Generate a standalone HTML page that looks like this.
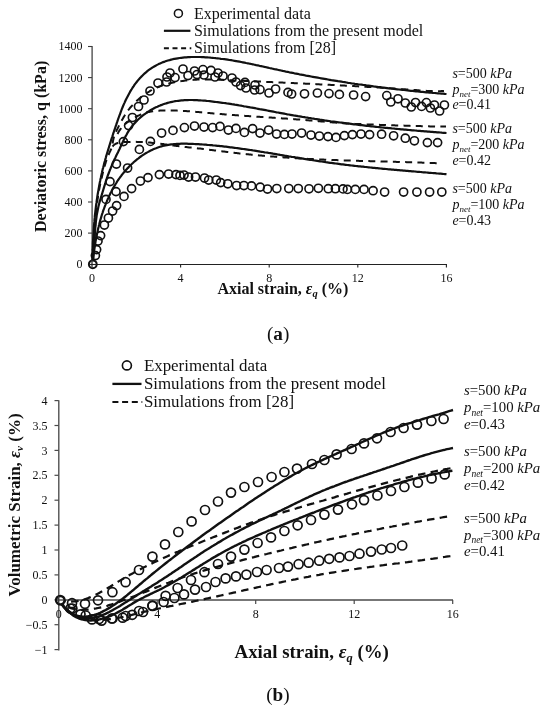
<!DOCTYPE html>
<html lang="en"><head><meta charset="utf-8"><title>Figure</title>
<style>html,body{margin:0;padding:0;background:#fff}svg{display:block;filter:blur(0.35px)}text{font-family:"Liberation Serif",serif;fill:#111}.b{font-weight:bold}.i{font-style:italic}</style>
</head><body>
<svg width="550" height="711" viewBox="0 0 550 711">
<rect width="550" height="711" fill="#fff"/>
<g stroke="#3c3c3c" stroke-width="1.25" fill="none">
<path d="M92.1,45.9 V264.5"/>
<path d="M88,264.2 H92" stroke-width="1.1"/>
<path d="M88,233.1 H92" stroke-width="1.1"/>
<path d="M88,202.0 H92" stroke-width="1.1"/>
<path d="M88,170.9 H92" stroke-width="1.1"/>
<path d="M88,139.8 H92" stroke-width="1.1"/>
<path d="M88,108.7 H92" stroke-width="1.1"/>
<path d="M88,77.6 H92" stroke-width="1.1"/>
<path d="M88,46.5 H92" stroke-width="1.1"/>
</g>
<g stroke="#222" stroke-width="1.1" fill="none">
<path d="M92,264.5 H447"/>
<path d="M92.0,264.5 V267.5"/>
<path d="M180.6,264.5 V267.5"/>
<path d="M269.2,264.5 V267.5"/>
<path d="M357.8,264.5 V267.5"/>
<path d="M446.4,264.5 V267.5"/>
</g>
<g font-size="12" text-anchor="end">
<text x="82.5" y="268.1">0</text>
<text x="82.5" y="237.0">200</text>
<text x="82.5" y="205.9">400</text>
<text x="82.5" y="174.8">600</text>
<text x="82.5" y="143.7">800</text>
<text x="82.5" y="112.6">1000</text>
<text x="82.5" y="81.5">1200</text>
<text x="82.5" y="50.4">1400</text>
</g>
<g font-size="12" text-anchor="middle">
<text x="92.0" y="281.9">0</text>
<text x="180.6" y="281.9">4</text>
<text x="269.2" y="281.9">8</text>
<text x="357.8" y="281.9">12</text>
<text x="446.4" y="281.9">16</text>
</g>
<text class="b" font-size="16" x="217.4" y="293.8">Axial strain, <tspan class="i">ε</tspan><tspan class="i" font-size="10.5" dy="3.5">q</tspan><tspan dy="-3.5"> (%)</tspan></text>
<text class="b" font-size="16" text-anchor="middle" transform="translate(45.8,146.4) rotate(-90)">Deviatoric stress, q (kPa)</text>
<circle cx="178.4" cy="13.4" r="4.00" fill="none" stroke="#111" stroke-width="1.55"/>
<text font-size="16" x="193.9" y="18.5">Experimental data</text>
<path d="M163.9,30.8 H190.4" stroke="#111" stroke-width="2.20"/>
<text font-size="16" x="193.9" y="35.6">Simulations from the present model</text>
<path d="M163.9,48.2 H191.3" stroke="#111" stroke-width="1.90" stroke-dasharray="5 3.6"/>
<text font-size="16" x="193.9" y="52.8">Simulations from [28]</text>
<g fill="none" stroke="#111" stroke-width="2.2" stroke-linecap="butt" stroke-linejoin="round">
<path d="M92.5,264.0 L92.5,262.3 L92.5,260.6 L92.5,258.9 L92.6,257.2 L92.6,255.5 L92.6,253.8 L92.7,252.1 L92.7,250.4 L92.8,248.7 L92.8,247.0 L92.9,245.3 L92.9,243.6 L93.0,241.8 L93.1,240.1 L93.2,238.4 L93.3,236.7 L93.4,235.0 L93.5,233.3 L93.6,231.6 L93.7,229.9 L93.8,228.2 L93.9,226.5 L94.1,224.8 L94.2,223.1 L94.4,221.4 L94.5,219.7 L94.7,217.9 L94.8,216.2 L95.0,214.5 L95.2,212.8 L95.4,211.1 L95.6,209.4 L95.8,207.7 L96.0,206.0 L96.2,204.4 L96.5,202.7 L96.7,201.0 L96.9,199.3 L97.2,197.6 L97.4,195.9 L97.7,194.2 L98.0,192.5 L98.3,190.9 L98.6,189.2 L98.9,187.5 L99.2,185.8 L99.5,184.1 L99.8,182.5 L100.2,180.8 L100.5,179.1 L100.9,177.5 L101.2,175.8 L101.6,174.2 L102.0,172.5 L102.3,170.9 L102.7,169.2 L103.2,167.6 L103.6,165.9 L104.0,164.3 L104.4,162.6 L104.9,161.0 L105.3,159.4 L105.8,157.8 L106.2,156.1 L106.7,154.5 L107.2,152.9 L107.7,151.2 L108.2,149.6 L108.7,148.0 L109.2,146.4 L109.7,144.7 L110.2,143.1 L110.7,141.5 L111.2,139.9 L111.7,138.3 L112.3,136.6 L112.8,135.0 L113.3,133.4 L113.9,131.7 L114.4,130.1 L115.0,128.5 L115.5,126.8 L116.1,125.2 L116.6,123.6 L117.2,121.9 L117.7,120.3 L118.3,118.7 L118.9,117.0 L119.5,115.4 L120.1,113.8 L120.7,112.2 L121.3,110.5 L121.9,108.9 L122.6,107.3 L123.2,105.7 L123.9,104.1 L124.6,102.6 L125.3,101.0 L126.0,99.5 L126.8,97.9 L127.6,96.4 L128.4,94.9 L129.2,93.4 L130.0,91.9 L130.9,90.4 L131.8,89.0 L132.7,87.5 L133.7,86.1 L134.6,84.7 L135.6,83.4 L136.7,82.0 L137.7,80.7 L138.8,79.4 L140.0,78.1 L141.1,76.9 L142.3,75.7 L143.5,74.5 L144.7,73.4 L146.0,72.3 L147.3,71.2 L148.6,70.2 L150.0,69.2 L151.3,68.3 L152.7,67.4 L154.2,66.5 L155.6,65.7 L157.1,64.9 L158.6,64.1 L160.1,63.4 L161.6,62.8 L163.2,62.1 L164.8,61.6 L166.3,61.0 L167.9,60.5 L169.6,60.1 L171.2,59.6 L172.8,59.2 L174.5,58.9 L176.1,58.6 L177.8,58.3 L179.5,58.0 L181.2,57.8 L182.9,57.6 L184.6,57.4 L186.3,57.3 L188.1,57.2 L189.8,57.1 L191.5,57.0 L193.3,57.0 L195.0,57.0 L196.7,57.0 L198.5,57.0 L200.2,57.0 L202.0,57.1 L203.7,57.2 L205.5,57.3 L207.2,57.4 L208.9,57.5 L210.7,57.7 L212.4,57.8 L214.1,58.0 L215.8,58.2 L217.5,58.3 L219.2,58.5 L220.9,58.8 L222.6,59.0 L224.3,59.2 L226.0,59.4 L227.7,59.7 L229.4,60.0 L231.1,60.2 L232.8,60.5 L234.5,60.8 L236.2,61.1 L237.8,61.4 L239.5,61.7 L241.2,62.0 L242.8,62.3 L244.5,62.6 L246.2,63.0 L247.9,63.3 L249.5,63.7 L251.2,64.0 L252.8,64.3 L254.5,64.7 L256.2,65.1 L257.8,65.4 L259.5,65.8 L261.1,66.1 L262.8,66.5 L264.5,66.9 L266.1,67.2 L267.8,67.6 L269.4,68.0 L271.1,68.3 L272.7,68.7 L274.4,69.1 L276.1,69.4 L277.7,69.8 L279.4,70.2 L281.0,70.5 L282.7,70.9 L284.4,71.2 L286.0,71.6 L287.7,71.9 L289.4,72.3 L291.0,72.6 L292.7,72.9 L294.4,73.3 L296.0,73.6 L297.7,73.9 L299.4,74.3 L301.0,74.6 L302.7,74.9 L304.4,75.2 L306.1,75.6 L307.7,75.9 L309.4,76.2 L311.1,76.5 L312.8,76.8 L314.5,77.1 L316.1,77.4 L317.8,77.7 L319.5,78.0 L321.2,78.3 L322.9,78.6 L324.5,78.9 L326.2,79.2 L327.9,79.5 L329.6,79.8 L331.3,80.1 L333.0,80.3 L334.6,80.6 L336.3,80.9 L338.0,81.2 L339.7,81.4 L341.4,81.7 L343.1,82.0 L344.8,82.2 L346.5,82.5 L348.1,82.8 L349.8,83.0 L351.5,83.3 L353.2,83.5 L354.9,83.8 L356.6,84.0 L358.3,84.3 L360.0,84.5 L361.7,84.7 L363.4,85.0 L365.1,85.2 L366.8,85.5 L368.5,85.7 L370.2,85.9 L371.8,86.1 L373.5,86.4 L375.2,86.6 L376.9,86.8 L378.6,87.0 L380.3,87.2 L382.0,87.5 L383.7,87.7 L385.4,87.9 L387.1,88.1 L388.8,88.3 L390.5,88.5 L392.2,88.7 L393.9,88.9 L395.6,89.1 L397.3,89.3 L399.0,89.5 L400.7,89.7 L402.4,89.9 L404.1,90.0 L405.8,90.2 L407.5,90.4 L409.2,90.6 L410.9,90.8 L412.6,90.9 L414.3,91.1 L416.0,91.3 L417.7,91.4 L419.4,91.6 L421.1,91.8 L422.8,91.9 L424.5,92.1 L426.2,92.3 L427.9,92.4 L429.5,92.6 L431.2,92.7 L432.9,92.9 L434.6,93.0 L436.3,93.2 L438.0,93.3 L439.7,93.5 L441.4,93.6 L443.1,93.7 L444.8,93.9 L446.5,94.0"/>
<path d="M92.5,264.0 L92.7,262.4 L92.9,260.9 L93.0,259.3 L93.2,257.8 L93.3,256.2 L93.4,254.6 L93.5,253.1 L93.7,251.5 L93.8,249.9 L93.9,248.3 L94.0,246.8 L94.1,245.2 L94.2,243.6 L94.3,242.0 L94.4,240.5 L94.5,238.9 L94.6,237.3 L94.7,235.7 L94.8,234.2 L94.9,232.6 L95.0,231.0 L95.1,229.5 L95.3,227.9 L95.4,226.3 L95.6,224.8 L95.7,223.2 L95.9,221.6 L96.1,220.1 L96.3,218.5 L96.5,217.0 L96.7,215.4 L97.0,213.9 L97.3,212.3 L97.6,210.8 L97.9,209.3 L98.2,207.8 L98.5,206.2 L98.9,204.7 L99.3,203.2 L99.7,201.7 L100.2,200.2 L100.6,198.7 L101.1,197.2 L101.5,195.7 L102.0,194.2 L102.4,192.7 L102.9,191.2 L103.3,189.7 L103.8,188.2 L104.2,186.7 L104.7,185.2 L105.2,183.7 L105.6,182.2 L106.1,180.7 L106.6,179.2 L107.1,177.7 L107.6,176.2 L108.1,174.7 L108.7,173.3 L109.2,171.8 L109.8,170.3 L110.4,168.9 L111.0,167.4 L111.6,166.0 L112.2,164.5 L112.8,163.1 L113.5,161.7 L114.1,160.3 L114.8,158.8 L115.5,157.4 L116.1,156.0 L116.8,154.6 L117.5,153.2 L118.2,151.8 L118.9,150.3 L119.6,148.9 L120.2,147.5 L120.9,146.1 L121.6,144.6 L122.2,143.2 L122.9,141.8 L123.6,140.3 L124.3,138.9 L125.0,137.5 L125.7,136.1 L126.5,134.7 L127.2,133.4 L128.0,132.0 L128.9,130.7 L129.8,129.4 L130.7,128.1 L131.6,126.8 L132.6,125.6 L133.6,124.4 L134.6,123.2 L135.7,122.1 L136.8,120.9 L137.9,119.8 L139.0,118.8 L140.2,117.7 L141.4,116.7 L142.6,115.7 L143.9,114.7 L145.1,113.8 L146.4,112.9 L147.7,112.0 L149.1,111.1 L150.4,110.3 L151.8,109.5 L153.1,108.8 L154.5,108.0 L155.9,107.3 L157.4,106.7 L158.8,106.0 L160.3,105.4 L161.7,104.9 L163.2,104.3 L164.7,103.8 L166.2,103.4 L167.7,102.9 L169.2,102.5 L170.7,102.1 L172.2,101.8 L173.7,101.5 L175.2,101.2 L176.8,101.0 L178.3,100.8 L179.9,100.6 L181.4,100.4 L183.0,100.3 L184.5,100.2 L186.1,100.1 L187.7,100.1 L189.2,100.0 L190.8,100.0 L192.4,100.0 L193.9,100.1 L195.5,100.1 L197.1,100.2 L198.7,100.3 L200.3,100.4 L201.8,100.5 L203.4,100.6 L205.0,100.7 L206.6,100.9 L208.2,101.0 L209.7,101.2 L211.3,101.4 L212.9,101.6 L214.5,101.8 L216.1,102.0 L217.6,102.2 L219.2,102.4 L220.8,102.6 L222.3,102.8 L223.9,103.0 L225.5,103.2 L227.0,103.5 L228.6,103.7 L230.2,103.9 L231.7,104.2 L233.3,104.4 L234.8,104.7 L236.4,104.9 L237.9,105.2 L239.5,105.5 L241.0,105.7 L242.6,106.0 L244.1,106.3 L245.7,106.5 L247.2,106.8 L248.8,107.1 L250.3,107.4 L251.9,107.6 L253.4,107.9 L255.0,108.2 L256.5,108.5 L258.0,108.8 L259.6,109.1 L261.1,109.3 L262.7,109.6 L264.2,109.9 L265.7,110.2 L267.3,110.5 L268.8,110.8 L270.4,111.1 L271.9,111.4 L273.4,111.7 L275.0,112.0 L276.5,112.3 L278.1,112.5 L279.6,112.8 L281.1,113.1 L282.7,113.4 L284.2,113.7 L285.8,114.0 L287.3,114.3 L288.8,114.5 L290.4,114.8 L291.9,115.1 L293.5,115.4 L295.0,115.6 L296.5,115.9 L298.1,116.2 L299.6,116.4 L301.2,116.7 L302.7,117.0 L304.3,117.2 L305.8,117.5 L307.4,117.7 L308.9,118.0 L310.5,118.2 L312.0,118.5 L313.6,118.7 L315.1,119.0 L316.7,119.2 L318.2,119.4 L319.8,119.7 L321.4,119.9 L322.9,120.1 L324.5,120.4 L326.0,120.6 L327.6,120.8 L329.1,121.0 L330.7,121.3 L332.3,121.5 L333.8,121.7 L335.4,121.9 L336.9,122.1 L338.5,122.3 L340.1,122.5 L341.6,122.7 L343.2,122.9 L344.7,123.1 L346.3,123.3 L347.9,123.5 L349.4,123.7 L351.0,123.9 L352.5,124.1 L354.1,124.3 L355.7,124.5 L357.2,124.7 L358.8,124.9 L360.4,125.1 L361.9,125.2 L363.5,125.4 L365.1,125.6 L366.6,125.8 L368.2,126.0 L369.8,126.1 L371.3,126.3 L372.9,126.5 L374.5,126.6 L376.0,126.8 L377.6,127.0 L379.2,127.1 L380.7,127.3 L382.3,127.5 L383.9,127.6 L385.4,127.8 L387.0,127.9 L388.6,128.1 L390.1,128.2 L391.7,128.4 L393.3,128.5 L394.8,128.7 L396.4,128.8 L398.0,129.0 L399.5,129.1 L401.1,129.3 L402.7,129.4 L404.2,129.6 L405.8,129.7 L407.4,129.8 L408.9,130.0 L410.5,130.1 L412.1,130.3 L413.6,130.4 L415.2,130.5 L416.8,130.7 L418.3,130.8 L419.9,130.9 L421.5,131.1 L423.0,131.2 L424.6,131.3 L426.2,131.4 L427.7,131.6 L429.3,131.7 L430.9,131.8 L432.4,131.9 L434.0,132.1 L435.6,132.2 L437.1,132.3 L438.7,132.4 L440.3,132.5 L441.8,132.7 L443.4,132.8 L444.9,132.9 L446.5,133.0"/>
<path d="M92.5,264.0 L92.7,262.6 L92.8,261.2 L93.0,259.8 L93.1,258.4 L93.3,256.9 L93.5,255.5 L93.7,254.1 L93.9,252.7 L94.1,251.2 L94.3,249.8 L94.5,248.4 L94.7,247.0 L94.9,245.5 L95.1,244.1 L95.4,242.7 L95.6,241.2 L95.9,239.8 L96.1,238.4 L96.4,236.9 L96.7,235.5 L97.0,234.1 L97.3,232.7 L97.6,231.2 L97.9,229.8 L98.2,228.4 L98.6,227.0 L98.9,225.6 L99.3,224.2 L99.6,222.7 L100.0,221.3 L100.4,219.9 L100.8,218.5 L101.2,217.1 L101.6,215.7 L102.0,214.4 L102.5,213.0 L102.9,211.6 L103.4,210.2 L103.9,208.9 L104.4,207.5 L104.9,206.1 L105.4,204.8 L105.9,203.4 L106.5,202.1 L107.0,200.8 L107.6,199.5 L108.2,198.1 L108.7,196.8 L109.4,195.5 L110.0,194.2 L110.6,192.9 L111.3,191.7 L111.9,190.4 L112.6,189.1 L113.3,187.9 L114.0,186.6 L114.8,185.4 L115.5,184.2 L116.3,183.0 L117.0,181.7 L117.8,180.5 L118.6,179.4 L119.5,178.2 L120.3,177.0 L121.2,175.9 L122.0,174.7 L122.9,173.6 L123.8,172.5 L124.8,171.4 L125.7,170.3 L126.7,169.2 L127.7,168.1 L128.7,167.1 L129.7,166.0 L130.7,165.0 L131.8,164.0 L132.9,163.0 L133.9,162.0 L135.0,161.1 L136.2,160.1 L137.3,159.2 L138.5,158.3 L139.6,157.4 L140.8,156.5 L142.0,155.7 L143.2,154.9 L144.4,154.1 L145.7,153.3 L146.9,152.6 L148.2,151.9 L149.4,151.2 L150.7,150.5 L152.0,149.9 L153.3,149.3 L154.6,148.7 L156.0,148.2 L157.3,147.7 L158.6,147.2 L160.0,146.8 L161.4,146.4 L162.7,146.0 L164.1,145.7 L165.5,145.4 L166.9,145.1 L168.3,144.8 L169.7,144.6 L171.1,144.4 L172.5,144.3 L174.0,144.1 L175.4,144.0 L176.8,143.9 L178.3,143.8 L179.7,143.8 L181.1,143.7 L182.6,143.7 L184.0,143.7 L185.5,143.7 L186.9,143.7 L188.4,143.8 L189.8,143.8 L191.3,143.9 L192.8,143.9 L194.2,144.0 L195.7,144.1 L197.1,144.2 L198.6,144.2 L200.0,144.3 L201.5,144.4 L202.9,144.5 L204.4,144.6 L205.8,144.7 L207.3,144.9 L208.7,145.0 L210.2,145.1 L211.6,145.2 L213.0,145.4 L214.5,145.5 L215.9,145.6 L217.4,145.8 L218.8,145.9 L220.2,146.1 L221.7,146.2 L223.1,146.4 L224.5,146.6 L226.0,146.7 L227.4,146.9 L228.9,147.1 L230.3,147.3 L231.7,147.4 L233.2,147.6 L234.6,147.8 L236.0,148.0 L237.4,148.2 L238.9,148.4 L240.3,148.6 L241.7,148.8 L243.2,149.0 L244.6,149.2 L246.0,149.4 L247.5,149.6 L248.9,149.8 L250.3,150.0 L251.7,150.2 L253.2,150.5 L254.6,150.7 L256.0,150.9 L257.4,151.1 L258.9,151.3 L260.3,151.6 L261.7,151.8 L263.1,152.0 L264.6,152.3 L266.0,152.5 L267.4,152.7 L268.8,153.0 L270.2,153.2 L271.7,153.4 L273.1,153.7 L274.5,153.9 L275.9,154.1 L277.4,154.4 L278.8,154.6 L280.2,154.9 L281.6,155.1 L283.0,155.3 L284.5,155.6 L285.9,155.8 L287.3,156.0 L288.7,156.3 L290.2,156.5 L291.6,156.8 L293.0,157.0 L294.4,157.2 L295.8,157.5 L297.3,157.7 L298.7,157.9 L300.1,158.2 L301.5,158.4 L303.0,158.6 L304.4,158.9 L305.8,159.1 L307.2,159.3 L308.7,159.6 L310.1,159.8 L311.5,160.0 L312.9,160.2 L314.4,160.5 L315.8,160.7 L317.2,160.9 L318.6,161.1 L320.1,161.3 L321.5,161.5 L322.9,161.7 L324.3,161.9 L325.8,162.2 L327.2,162.4 L328.6,162.6 L330.1,162.8 L331.5,162.9 L332.9,163.1 L334.4,163.3 L335.8,163.5 L337.2,163.7 L338.7,163.9 L340.1,164.1 L341.5,164.3 L343.0,164.4 L344.4,164.6 L345.8,164.8 L347.3,165.0 L348.7,165.1 L350.1,165.3 L351.6,165.5 L353.0,165.6 L354.4,165.8 L355.9,166.0 L357.3,166.1 L358.7,166.3 L360.2,166.4 L361.6,166.6 L363.1,166.7 L364.5,166.9 L365.9,167.0 L367.4,167.2 L368.8,167.3 L370.2,167.5 L371.7,167.6 L373.1,167.8 L374.6,167.9 L376.0,168.1 L377.4,168.2 L378.9,168.3 L380.3,168.5 L381.8,168.6 L383.2,168.8 L384.6,168.9 L386.1,169.0 L387.5,169.2 L389.0,169.3 L390.4,169.4 L391.8,169.6 L393.3,169.7 L394.7,169.8 L396.2,169.9 L397.6,170.1 L399.0,170.2 L400.5,170.3 L401.9,170.4 L403.4,170.6 L404.8,170.7 L406.2,170.8 L407.7,170.9 L409.1,171.1 L410.6,171.2 L412.0,171.3 L413.4,171.4 L414.9,171.5 L416.3,171.7 L417.8,171.8 L419.2,171.9 L420.6,172.0 L422.1,172.2 L423.5,172.3 L425.0,172.4 L426.4,172.5 L427.8,172.6 L429.3,172.8 L430.7,172.9 L432.1,173.0 L433.6,173.1 L435.0,173.2 L436.5,173.4 L437.9,173.5 L439.3,173.6 L440.8,173.7 L442.2,173.8 L443.6,174.0 L445.1,174.1 L446.5,174.2"/>
</g>
<g fill="none" stroke="#111" stroke-width="2.0" stroke-dasharray="7 5.3">
<path d="M92.5,264.0 L92.6,262.8 L92.7,261.6 L92.9,260.4 L93.0,259.2 L93.1,258.0 L93.2,256.7 L93.3,255.5 L93.4,254.3 L93.5,253.1 L93.6,251.9 L93.7,250.7 L93.7,249.5 L93.8,248.3 L93.9,247.0 L94.0,245.8 L94.0,244.6 L94.1,243.4 L94.2,242.2 L94.3,241.0 L94.3,239.8 L94.4,238.5 L94.5,237.3 L94.5,236.1 L94.6,234.9 L94.7,233.7 L94.7,232.5 L94.8,231.2 L94.9,230.0 L95.0,228.8 L95.0,227.6 L95.1,226.4 L95.2,225.2 L95.3,224.0 L95.3,222.7 L95.4,221.5 L95.5,220.3 L95.6,219.1 L95.7,217.9 L95.8,216.7 L95.9,215.5 L96.0,214.2 L96.1,213.0 L96.2,211.8 L96.3,210.6 L96.4,209.4 L96.5,208.2 L96.6,207.0 L96.8,205.8 L96.9,204.6 L97.1,203.4 L97.2,202.2 L97.4,201.0 L97.5,199.7 L97.7,198.5 L97.9,197.3 L98.0,196.1 L98.2,194.9 L98.4,193.7 L98.6,192.5 L98.8,191.3 L99.0,190.1 L99.3,189.0 L99.5,187.8 L99.7,186.6 L100.0,185.4 L100.2,184.2 L100.5,183.0 L100.7,181.8 L101.0,180.6 L101.3,179.4 L101.6,178.2 L101.9,177.1 L102.1,175.9 L102.4,174.7 L102.7,173.5 L103.0,172.3 L103.3,171.1 L103.6,170.0 L103.9,168.8 L104.3,167.6 L104.6,166.4 L104.9,165.3 L105.2,164.1 L105.6,162.9 L105.9,161.8 L106.3,160.6 L106.7,159.5 L107.1,158.3 L107.5,157.2 L108.0,156.1 L108.5,155.0 L109.0,153.8 L109.5,152.7 L110.0,151.6 L110.5,150.5 L111.0,149.4 L111.5,148.3 L111.8,147.1 L112.1,146.0 L112.4,144.8 L112.6,143.6 L112.8,142.4 L113.0,141.2 L113.2,140.0 L113.5,138.8 L113.8,137.6 L114.1,136.5 L114.5,135.3 L114.9,134.2 L115.4,133.1 L115.9,132.0 L116.4,130.9 L116.9,129.8 L117.5,128.7 L118.0,127.6 L118.6,126.5 L119.1,125.4 L119.7,124.3 L120.3,123.2 L120.9,122.2 L121.4,121.1 L122.0,120.0 L122.6,119.0 L123.2,117.9 L123.8,116.9 L124.5,115.8 L125.1,114.8 L125.8,113.8 L126.4,112.8 L127.1,111.8 L127.8,110.8 L128.5,109.8 L129.3,108.9 L130.0,107.9 L130.8,107.0 L131.6,106.1 L132.5,105.2 L133.3,104.3 L134.1,103.4 L135.0,102.5 L135.9,101.7 L136.8,100.8 L137.7,100.0 L138.6,99.2 L139.6,98.4 L140.5,97.6 L141.4,96.9 L142.4,96.1 L143.4,95.4 L144.4,94.7 L145.4,94.0 L146.4,93.3 L147.4,92.6 L148.4,92.0 L149.5,91.4 L150.5,90.7 L151.6,90.2 L152.6,89.6 L153.7,89.0 L154.8,88.5 L155.9,88.0 L157.0,87.5 L158.1,87.0 L159.2,86.5 L160.3,86.1 L161.5,85.7 L162.6,85.3 L163.8,84.9 L164.9,84.5 L166.1,84.2 L167.3,83.9 L168.5,83.6 L169.7,83.3 L170.8,83.0 L172.0,82.7 L173.2,82.5 L174.4,82.2 L175.6,82.0 L176.8,81.8 L178.1,81.6 L179.3,81.4 L180.5,81.2 L181.7,81.1 L182.9,80.9 L184.1,80.7 L185.3,80.6 L186.5,80.5 L187.7,80.3 L188.9,80.2 L190.2,80.1 L191.4,80.0 L192.6,79.9 L193.8,79.8 L195.0,79.7 L196.2,79.7 L197.4,79.6 L198.6,79.5 L199.8,79.5 L201.1,79.5 L202.3,79.4 L203.5,79.4 L204.7,79.4 L205.9,79.4 L207.1,79.4 L208.3,79.4 L209.6,79.4 L210.8,79.4 L212.0,79.5 L213.2,79.5 L214.4,79.5 L215.6,79.6 L216.9,79.6 L218.1,79.6 L219.3,79.7 L220.5,79.7 L221.7,79.8 L222.9,79.8 L224.1,79.9 L225.4,80.0 L226.6,80.0 L227.8,80.1 L229.0,80.1 L230.2,80.2 L231.4,80.3 L232.7,80.3 L233.9,80.4 L235.1,80.4 L236.3,80.5 L237.5,80.6 L238.7,80.6 L240.0,80.7 L241.2,80.7 L242.4,80.8 L243.6,80.8 L244.8,80.9 L246.0,81.0 L247.2,81.0 L248.5,81.1 L249.7,81.1 L250.9,81.2 L252.1,81.2 L253.3,81.3 L254.5,81.4 L255.8,81.4 L257.0,81.5 L258.2,81.5 L259.4,81.6 L260.6,81.6 L261.8,81.7 L263.0,81.7 L264.3,81.8 L265.5,81.9 L266.7,81.9 L267.9,82.0 L269.1,82.0 L270.3,82.1 L271.5,82.1 L272.8,82.2 L274.0,82.2 L275.2,82.3 L276.4,82.3 L277.6,82.4 L278.8,82.5 L280.1,82.5 L281.3,82.6 L282.5,82.6 L283.7,82.7 L284.9,82.7 L286.1,82.8 L287.3,82.8 L288.6,82.9 L289.8,82.9 L291.0,83.0 L292.2,83.1 L293.4,83.1 L294.6,83.2 L295.8,83.2 L297.1,83.3 L298.3,83.3 L299.5,83.4 L300.7,83.4 L301.9,83.5 L303.1,83.6 L304.3,83.6 L305.6,83.7 L306.8,83.7 L308.0,83.8 L309.2,83.8 L310.4,83.9 L311.6,84.0 L312.8,84.0 L314.1,84.1 L315.3,84.1 L316.5,84.2 L317.7,84.2 L318.9,84.3 L320.1,84.4 L321.4,84.4 L322.6,84.5 L323.8,84.5 L325.0,84.6 L326.2,84.7 L327.4,84.7 L328.6,84.8 L329.9,84.8 L331.1,84.9 L332.3,85.0 L333.5,85.0 L334.7,85.1 L335.9,85.1 L337.1,85.2 L338.4,85.3 L339.6,85.3 L340.8,85.4 L342.0,85.5 L343.2,85.5 L344.4,85.6 L345.6,85.7 L346.9,85.7 L348.1,85.8 L349.3,85.9 L350.5,85.9 L351.7,86.0 L352.9,86.1 L354.1,86.1 L355.4,86.2 L356.6,86.3 L357.8,86.3 L359.0,86.4 L360.2,86.5 L361.4,86.5 L362.6,86.6 L363.9,86.7 L365.1,86.8 L366.3,86.8 L367.5,86.9 L368.7,87.0 L369.9,87.0 L371.1,87.1 L372.4,87.2 L373.6,87.3 L374.8,87.3 L376.0,87.4 L377.2,87.5 L378.4,87.6 L379.6,87.6 L380.9,87.7 L382.1,87.8 L383.3,87.9 L384.5,87.9 L385.7,88.0 L386.9,88.1 L388.1,88.2 L389.4,88.3 L390.6,88.3 L391.8,88.4 L393.0,88.5 L394.2,88.6 L395.4,88.7 L396.6,88.7 L397.9,88.8 L399.1,88.9 L400.3,89.0 L401.5,89.1 L402.7,89.2 L403.9,89.2 L405.1,89.3 L406.3,89.4 L407.6,89.5 L408.8,89.6 L410.0,89.7 L411.2,89.8 L412.4,89.8 L413.6,89.9 L414.8,90.0 L416.0,90.1 L417.3,90.2 L418.5,90.3 L419.7,90.4 L420.9,90.5 L422.1,90.6 L423.3,90.6 L424.5,90.7 L425.7,90.8 L427.0,90.9 L428.2,91.0 L429.4,91.0 L430.6,91.1 L431.8,91.1 L433.0,91.2 L434.2,91.2 L435.5,91.2 L436.7,91.3 L437.9,91.2 L439.1,91.2 L440.3,91.2 L441.6,91.1 L442.8,91.1 L444.0,91.0"/>
<path d="M117.5,134.0 L117.9,133.2 L118.3,132.5 L118.7,131.7 L119.1,131.0 L119.6,130.3 L120.1,129.6 L120.6,128.9 L121.1,128.3 L121.6,127.6 L122.2,127.0 L122.7,126.4 L123.3,125.8 L123.9,125.2 L124.5,124.6 L125.2,124.1 L125.8,123.5 L126.4,123.0 L127.1,122.4 L127.8,121.9 L128.4,121.4 L129.1,120.9 L129.8,120.4 L130.5,120.0 L131.2,119.5 L132.0,119.0 L132.7,118.6 L133.4,118.2 L134.2,117.7 L134.9,117.3 L135.7,116.9 L136.4,116.5 L137.2,116.1 L138.0,115.8 L138.7,115.4 L139.5,115.1 L140.3,114.7 L141.1,114.4 L141.9,114.1 L142.7,113.8 L143.5,113.5 L144.3,113.2 L145.1,113.0 L145.9,112.7 L146.7,112.5 L147.5,112.3 L148.3,112.1 L149.1,111.9 L150.0,111.8 L150.8,111.6 L151.6,111.5 L152.4,111.3 L153.3,111.2 L154.1,111.1 L154.9,111.0 L155.8,110.9 L156.6,110.9 L157.5,110.8 L158.3,110.7 L159.1,110.7 L160.0,110.6 L160.8,110.6 L161.7,110.6 L162.5,110.5 L163.4,110.5 L164.2,110.5 L165.0,110.5 L165.9,110.5 L166.7,110.5 L167.6,110.5 L168.4,110.5 L169.3,110.5 L170.1,110.5 L171.0,110.5 L171.8,110.5 L172.7,110.5 L173.5,110.5 L174.3,110.5 L175.2,110.6 L176.0,110.6 L176.9,110.6 L177.7,110.7 L178.6,110.7 L179.4,110.7 L180.3,110.8 L181.1,110.8 L181.9,110.9 L182.8,110.9 L183.6,110.9 L184.5,111.0 L185.3,111.0 L186.2,111.1 L187.0,111.2 L187.8,111.2 L188.7,111.3 L189.5,111.3 L190.4,111.4 L191.2,111.5 L192.1,111.5 L192.9,111.6 L193.8,111.7 L194.6,111.7 L195.4,111.8 L196.3,111.9 L197.1,111.9 L198.0,112.0 L198.8,112.1 L199.7,112.2 L200.5,112.2 L201.3,112.3 L202.2,112.4 L203.0,112.5 L203.9,112.5 L204.7,112.6 L205.6,112.7 L206.4,112.8 L207.2,112.9 L208.1,112.9 L208.9,113.0 L209.8,113.1 L210.6,113.2 L211.5,113.2 L212.3,113.3 L213.1,113.4 L214.0,113.5 L214.8,113.5 L215.7,113.6 L216.5,113.7 L217.4,113.8 L218.2,113.8 L219.0,113.9 L219.9,114.0 L220.7,114.0 L221.6,114.1 L222.4,114.2 L223.3,114.3 L224.1,114.3 L224.9,114.4 L225.8,114.5 L226.6,114.5 L227.5,114.6 L228.3,114.7 L229.2,114.7 L230.0,114.8 L230.8,114.8 L231.7,114.9 L232.5,115.0 L233.4,115.0 L234.2,115.1 L235.1,115.2 L235.9,115.2 L236.7,115.3 L237.6,115.3 L238.4,115.4 L239.3,115.5 L240.1,115.5 L241.0,115.6 L241.8,115.6 L242.7,115.7 L243.5,115.8 L244.3,115.8 L245.2,115.9 L246.0,115.9 L246.9,116.0 L247.7,116.1 L248.6,116.1 L249.4,116.2 L250.2,116.2 L251.1,116.3 L251.9,116.3 L252.8,116.4 L253.6,116.5 L254.5,116.5 L255.3,116.6 L256.1,116.6 L257.0,116.7 L257.8,116.7 L258.7,116.8 L259.5,116.8 L260.4,116.9 L261.2,117.0 L262.0,117.0 L262.9,117.1 L263.7,117.1 L264.6,117.2 L265.4,117.2 L266.3,117.3 L267.1,117.3 L267.9,117.4 L268.8,117.5 L269.6,117.5 L270.5,117.6 L271.3,117.6 L272.2,117.7 L273.0,117.7 L273.8,117.8 L274.7,117.8 L275.5,117.9 L276.4,118.0 L277.2,118.0 L278.1,118.1 L278.9,118.1 L279.7,118.2 L280.6,118.2 L281.4,118.3 L282.3,118.4 L283.1,118.4 L284.0,118.5 L284.8,118.5 L285.6,118.6 L286.5,118.6 L287.3,118.7 L288.2,118.8 L289.0,118.8 L289.9,118.9 L290.7,118.9 L291.5,119.0 L292.4,119.1 L293.2,119.1 L294.1,119.2 L294.9,119.3 L295.8,119.3 L296.6,119.4 L297.4,119.5 L298.3,119.5 L299.1,119.6 L300.0,119.6 L300.8,119.7 L301.7,119.8 L302.5,119.8 L303.3,119.9 L304.2,120.0 L305.0,120.0 L305.9,120.1 L306.7,120.2 L307.6,120.3 L308.4,120.3 L309.2,120.4 L310.1,120.5 L310.9,120.5 L311.8,120.6 L312.6,120.7 L313.5,120.8 L314.3,120.8 L315.1,120.9 L316.0,121.0 L316.8,121.1 L317.7,121.1 L318.5,121.2 L319.4,121.3 L320.2,121.3 L321.0,121.4 L321.9,121.5 L322.7,121.6 L323.6,121.6 L324.4,121.7 L325.3,121.8 L326.1,121.9 L326.9,121.9 L327.8,122.0 L328.6,122.1 L329.5,122.1 L330.3,122.2 L331.1,122.3 L332.0,122.3 L332.8,122.4 L333.7,122.5 L334.5,122.5 L335.4,122.6 L336.2,122.7 L337.0,122.7 L337.9,122.8 L338.7,122.9 L339.6,122.9 L340.4,123.0 L341.3,123.0 L342.1,123.1 L343.0,123.2 L343.8,123.2 L344.6,123.3 L345.5,123.3 L346.3,123.4 L347.2,123.4 L348.0,123.5 L348.9,123.5 L349.7,123.6 L350.5,123.6 L351.4,123.7 L352.2,123.7 L353.1,123.8 L353.9,123.8 L354.8,123.9 L355.6,123.9 L356.4,123.9 L357.3,124.0 L358.1,124.0 L359.0,124.1 L359.8,124.1 L360.7,124.1 L361.5,124.2 L362.4,124.2 L363.2,124.2 L364.0,124.3 L364.9,124.3 L365.7,124.3 L366.6,124.4 L367.4,124.4 L368.3,124.4 L369.1,124.5 L370.0,124.5 L370.8,124.5 L371.6,124.6 L372.5,124.6 L373.3,124.6 L374.2,124.7 L375.0,124.7 L375.9,124.7 L376.7,124.7 L377.6,124.8 L378.4,124.8 L379.2,124.8 L380.1,124.9 L380.9,124.9 L381.8,124.9 L382.6,124.9 L383.5,125.0 L384.3,125.0 L385.2,125.0 L386.0,125.1 L386.8,125.1 L387.7,125.1 L388.5,125.1 L389.4,125.2 L390.2,125.2 L391.1,125.2 L391.9,125.3 L392.8,125.3 L393.6,125.3 L394.5,125.3 L395.3,125.4 L396.1,125.4 L397.0,125.4 L397.8,125.5 L398.7,125.5 L399.5,125.5 L400.4,125.5 L401.2,125.6 L402.1,125.6 L402.9,125.6 L403.7,125.6 L404.6,125.7 L405.4,125.7 L406.3,125.7 L407.1,125.8 L408.0,125.8 L408.8,125.8 L409.7,125.8 L410.5,125.9 L411.4,125.9 L412.2,125.9 L413.0,125.9 L413.9,126.0 L414.7,126.0 L415.6,126.0 L416.4,126.0 L417.3,126.1 L418.1,126.1 L419.0,126.1 L419.8,126.1 L420.6,126.1 L421.5,126.2 L422.3,126.2 L423.2,126.2 L424.0,126.2 L424.9,126.3 L425.7,126.3 L426.6,126.3 L427.4,126.3 L428.3,126.3 L429.1,126.3 L429.9,126.4 L430.8,126.4 L431.6,126.4 L432.5,126.4 L433.3,126.4 L434.2,126.4 L435.0,126.5 L435.9,126.5 L436.7,126.5 L437.5,126.5 L438.4,126.5 L439.2,126.5 L440.1,126.5 L440.9,126.5 L441.8,126.6 L442.6,126.6 L443.5,126.6 L444.3,126.6 L445.2,126.6 L446.0,126.6"/>
<path d="M112.5,146.5 L113.1,145.8 L113.6,145.2 L114.3,144.7 L114.9,144.2 L115.6,143.8 L116.3,143.5 L117.1,143.2 L117.8,143.0 L118.6,142.8 L119.4,142.6 L120.2,142.5 L121.1,142.4 L121.9,142.3 L122.7,142.2 L123.5,142.2 L124.4,142.1 L125.2,142.1 L126.0,142.0 L126.9,142.0 L127.7,141.9 L128.5,141.9 L129.4,141.9 L130.2,141.9 L131.0,141.8 L131.9,141.8 L132.7,141.8 L133.5,141.8 L134.4,141.8 L135.2,141.8 L136.0,141.8 L136.9,141.9 L137.7,141.9 L138.5,141.9 L139.4,141.9 L140.2,142.0 L141.0,142.0 L141.9,142.0 L142.7,142.1 L143.5,142.1 L144.4,142.2 L145.2,142.2 L146.0,142.3 L146.8,142.4 L147.7,142.4 L148.5,142.5 L149.3,142.6 L150.2,142.6 L151.0,142.7 L151.8,142.8 L152.7,142.9 L153.5,143.0 L154.3,143.0 L155.1,143.1 L156.0,143.2 L156.8,143.3 L157.6,143.4 L158.4,143.5 L159.3,143.6 L160.1,143.7 L160.9,143.8 L161.7,143.9 L162.5,144.0 L163.4,144.1 L164.2,144.3 L165.0,144.4 L165.8,144.5 L166.6,144.6 L167.5,144.7 L168.3,144.8 L169.1,144.9 L169.9,145.0 L170.7,145.2 L171.6,145.3 L172.4,145.4 L173.2,145.5 L174.0,145.6 L174.8,145.7 L175.7,145.8 L176.5,145.9 L177.3,146.0 L178.1,146.1 L179.0,146.2 L179.8,146.3 L180.6,146.4 L181.4,146.5 L182.3,146.6 L183.1,146.7 L183.9,146.8 L184.7,146.9 L185.6,147.0 L186.4,147.1 L187.2,147.2 L188.0,147.3 L188.9,147.4 L189.7,147.4 L190.5,147.5 L191.3,147.6 L192.2,147.7 L193.0,147.8 L193.8,147.9 L194.7,148.0 L195.5,148.1 L196.3,148.2 L197.1,148.3 L198.0,148.4 L198.8,148.5 L199.6,148.5 L200.4,148.6 L201.3,148.7 L202.1,148.8 L202.9,148.9 L203.7,149.0 L204.6,149.1 L205.4,149.2 L206.2,149.3 L207.0,149.4 L207.9,149.5 L208.7,149.6 L209.5,149.7 L210.3,149.9 L211.2,150.0 L212.0,150.1 L212.8,150.2 L213.6,150.3 L214.5,150.4 L215.3,150.5 L216.1,150.6 L216.9,150.7 L217.8,150.8 L218.6,150.9 L219.4,151.0 L220.2,151.1 L221.0,151.2 L221.9,151.3 L222.7,151.4 L223.5,151.5 L224.3,151.6 L225.2,151.7 L226.0,151.8 L226.8,151.9 L227.6,152.0 L228.5,152.1 L229.3,152.2 L230.1,152.3 L230.9,152.4 L231.8,152.5 L232.6,152.6 L233.4,152.7 L234.2,152.8 L235.1,152.9 L235.9,153.0 L236.7,153.1 L237.5,153.2 L238.4,153.3 L239.2,153.4 L240.0,153.5 L240.8,153.5 L241.7,153.6 L242.5,153.7 L243.3,153.8 L244.1,153.9 L245.0,154.0 L245.8,154.1 L246.6,154.2 L247.4,154.3 L248.3,154.3 L249.1,154.4 L249.9,154.5 L250.7,154.6 L251.6,154.7 L252.4,154.8 L253.2,154.8 L254.0,154.9 L254.9,155.0 L255.7,155.1 L256.5,155.1 L257.4,155.2 L258.2,155.3 L259.0,155.4 L259.8,155.5 L260.7,155.5 L261.5,155.6 L262.3,155.7 L263.1,155.8 L264.0,155.8 L264.8,155.9 L265.6,156.0 L266.5,156.0 L267.3,156.1 L268.1,156.2 L268.9,156.2 L269.8,156.3 L270.6,156.4 L271.4,156.4 L272.2,156.5 L273.1,156.6 L273.9,156.6 L274.7,156.7 L275.6,156.8 L276.4,156.8 L277.2,156.9 L278.0,157.0 L278.9,157.0 L279.7,157.1 L280.5,157.1 L281.4,157.2 L282.2,157.3 L283.0,157.3 L283.8,157.4 L284.7,157.4 L285.5,157.5 L286.3,157.6 L287.2,157.6 L288.0,157.7 L288.8,157.7 L289.6,157.8 L290.5,157.8 L291.3,157.9 L292.1,157.9 L293.0,158.0 L293.8,158.0 L294.6,158.1 L295.4,158.2 L296.3,158.2 L297.1,158.3 L297.9,158.3 L298.8,158.4 L299.6,158.4 L300.4,158.4 L301.2,158.5 L302.1,158.5 L302.9,158.6 L303.7,158.6 L304.6,158.7 L305.4,158.7 L306.2,158.8 L307.0,158.8 L307.9,158.9 L308.7,158.9 L309.5,158.9 L310.4,159.0 L311.2,159.0 L312.0,159.1 L312.9,159.1 L313.7,159.2 L314.5,159.2 L315.3,159.2 L316.2,159.3 L317.0,159.3 L317.8,159.4 L318.7,159.4 L319.5,159.4 L320.3,159.5 L321.1,159.5 L322.0,159.5 L322.8,159.6 L323.6,159.6 L324.5,159.7 L325.3,159.7 L326.1,159.7 L327.0,159.8 L327.8,159.8 L328.6,159.8 L329.4,159.9 L330.3,159.9 L331.1,159.9 L331.9,160.0 L332.8,160.0 L333.6,160.0 L334.4,160.1 L335.3,160.1 L336.1,160.1 L336.9,160.1 L337.7,160.2 L338.6,160.2 L339.4,160.2 L340.2,160.3 L341.1,160.3 L341.9,160.3 L342.7,160.3 L343.6,160.4 L344.4,160.4 L345.2,160.4 L346.0,160.5 L346.9,160.5 L347.7,160.5 L348.5,160.5 L349.4,160.6 L350.2,160.6 L351.0,160.6 L351.9,160.6 L352.7,160.7 L353.5,160.7 L354.3,160.7 L355.2,160.7 L356.0,160.8 L356.8,160.8 L357.7,160.8 L358.5,160.8 L359.3,160.9 L360.2,160.9 L361.0,160.9 L361.8,160.9 L362.6,161.0 L363.5,161.0 L364.3,161.0 L365.1,161.0 L366.0,161.1 L366.8,161.1 L367.6,161.1 L368.5,161.1 L369.3,161.1 L370.1,161.2 L370.9,161.2 L371.8,161.2 L372.6,161.2 L373.4,161.3 L374.3,161.3 L375.1,161.3 L375.9,161.3 L376.8,161.3 L377.6,161.4 L378.4,161.4 L379.2,161.4 L380.1,161.4 L380.9,161.5 L381.7,161.5 L382.6,161.5 L383.4,161.5 L384.2,161.5 L385.1,161.6 L385.9,161.6 L386.7,161.6 L387.5,161.6 L388.4,161.6 L389.2,161.7 L390.0,161.7 L390.9,161.7 L391.7,161.7 L392.5,161.8 L393.4,161.8 L394.2,161.8 L395.0,161.8 L395.8,161.8 L396.7,161.9 L397.5,161.9 L398.3,161.9 L399.2,161.9 L400.0,162.0 L400.8,162.0 L401.7,162.0 L402.5,162.0 L403.3,162.1 L404.1,162.1 L405.0,162.1 L405.8,162.1 L406.6,162.2 L407.5,162.2 L408.3,162.2 L409.1,162.2 L410.0,162.3 L410.8,162.3 L411.6,162.3 L412.4,162.3 L413.3,162.4 L414.1,162.4 L414.9,162.4 L415.8,162.4 L416.6,162.5 L417.4,162.5 L418.3,162.5 L419.1,162.5 L419.9,162.6 L420.8,162.6 L421.6,162.6 L422.4,162.7 L423.2,162.7 L424.1,162.7 L424.9,162.7 L425.7,162.8 L426.6,162.8 L427.4,162.8 L428.2,162.9 L429.1,162.9 L429.9,162.9 L430.7,163.0 L431.5,163.0 L432.4,163.0 L433.2,163.1 L434.0,163.1 L434.9,163.1 L435.7,163.2 L436.5,163.2 L437.4,163.2 L438.2,163.3 L439.0,163.3 L439.8,163.3 L440.7,163.4 L441.5,163.4"/>
</g>
<circle cx="92.8" cy="264.3" r="3.9" fill="#fff" stroke="#111" stroke-width="2.0"/>
<path d="M92,260.6 V268" stroke="#3c3c3c" stroke-width="1.4"/><path d="M89.2,264.5 H97" stroke="#222" stroke-width="1.1"/>
<g fill="none" stroke="#111" stroke-width="1.65">
<circle cx="95.4" cy="255.6" r="4.05"/>
<circle cx="96.6" cy="249.6" r="4.05"/>
<circle cx="98" cy="241" r="4.05"/>
<circle cx="100.6" cy="235.6" r="4.05"/>
<circle cx="104.4" cy="225" r="4.05"/>
<circle cx="108.4" cy="218" r="4.05"/>
<circle cx="112.6" cy="211" r="4.05"/>
<circle cx="116.6" cy="205.6" r="4.05"/>
<circle cx="106" cy="199.4" r="4.05"/>
<circle cx="116" cy="191.6" r="4.05"/>
<circle cx="124" cy="196.4" r="4.05"/>
<circle cx="110" cy="181.6" r="4.05"/>
<circle cx="131.6" cy="188.6" r="4.05"/>
<circle cx="140.4" cy="181" r="4.05"/>
<circle cx="148" cy="177.6" r="4.05"/>
<circle cx="116.4" cy="164" r="4.05"/>
<circle cx="123.4" cy="141.6" r="4.05"/>
<circle cx="128.6" cy="125.6" r="4.05"/>
<circle cx="132.4" cy="117.5" r="4.05"/>
<circle cx="138.5" cy="106.5" r="4.05"/>
<circle cx="144" cy="100" r="4.05"/>
<circle cx="150" cy="91" r="4.05"/>
<circle cx="158" cy="83" r="4.05"/>
<circle cx="166.6" cy="82" r="4.05"/>
<circle cx="167" cy="77" r="4.05"/>
<circle cx="170" cy="73" r="4.05"/>
<circle cx="175" cy="77.6" r="4.05"/>
<circle cx="183" cy="69" r="4.05"/>
<circle cx="188" cy="75.6" r="4.05"/>
<circle cx="194.5" cy="71" r="4.05"/>
<circle cx="197.1" cy="74.5" r="4.05"/>
<circle cx="203" cy="69.6" r="4.05"/>
<circle cx="204" cy="75" r="4.05"/>
<circle cx="211" cy="70.4" r="4.05"/>
<circle cx="215" cy="77" r="4.05"/>
<circle cx="218" cy="73" r="4.05"/>
<circle cx="223" cy="76" r="4.05"/>
<circle cx="232" cy="78" r="4.05"/>
<circle cx="236" cy="82" r="4.05"/>
<circle cx="240.6" cy="85.6" r="4.05"/>
<circle cx="245" cy="82.4" r="4.05"/>
<circle cx="246" cy="88" r="4.05"/>
<circle cx="255" cy="85" r="4.05"/>
<circle cx="254.6" cy="90" r="4.05"/>
<circle cx="260" cy="89.6" r="4.05"/>
<circle cx="269" cy="93" r="4.05"/>
<circle cx="275.6" cy="89" r="4.05"/>
<circle cx="288" cy="92.4" r="4.05"/>
<circle cx="291.6" cy="94" r="4.05"/>
<circle cx="304.5" cy="93.8" r="4.05"/>
<circle cx="317.4" cy="93" r="4.05"/>
<circle cx="329" cy="93.6" r="4.05"/>
<circle cx="339.4" cy="94.4" r="4.05"/>
<circle cx="353.6" cy="95" r="4.05"/>
<circle cx="365.6" cy="96.6" r="4.05"/>
<circle cx="386.8" cy="95.6" r="4.05"/>
<circle cx="390.8" cy="102" r="4.05"/>
<circle cx="398" cy="98.8" r="4.05"/>
<circle cx="405.3" cy="103" r="4.05"/>
<circle cx="411.3" cy="107" r="4.05"/>
<circle cx="415.5" cy="102.5" r="4.05"/>
<circle cx="421.6" cy="106.4" r="4.05"/>
<circle cx="426.4" cy="102.6" r="4.05"/>
<circle cx="430.4" cy="108" r="4.05"/>
<circle cx="434.4" cy="105" r="4.05"/>
<circle cx="439.6" cy="111" r="4.05"/>
<circle cx="444.4" cy="105" r="4.05"/>
<circle cx="127.6" cy="168" r="4.05"/>
<circle cx="139.4" cy="149.4" r="4.05"/>
<circle cx="150.4" cy="141.4" r="4.05"/>
<circle cx="161.6" cy="133" r="4.05"/>
<circle cx="173" cy="130.4" r="4.05"/>
<circle cx="184.4" cy="127.6" r="4.05"/>
<circle cx="194.5" cy="126" r="4.05"/>
<circle cx="204" cy="127" r="4.05"/>
<circle cx="212.6" cy="127.6" r="4.05"/>
<circle cx="220" cy="126.4" r="4.05"/>
<circle cx="228.4" cy="130" r="4.05"/>
<circle cx="236" cy="128.4" r="4.05"/>
<circle cx="244.4" cy="132.4" r="4.05"/>
<circle cx="252.6" cy="128.6" r="4.05"/>
<circle cx="260" cy="133" r="4.05"/>
<circle cx="268.6" cy="130" r="4.05"/>
<circle cx="276.6" cy="134" r="4.05"/>
<circle cx="284.4" cy="134.4" r="4.05"/>
<circle cx="292" cy="134" r="4.05"/>
<circle cx="301.6" cy="133" r="4.05"/>
<circle cx="311" cy="135" r="4.05"/>
<circle cx="319.4" cy="136" r="4.05"/>
<circle cx="328" cy="136.6" r="4.05"/>
<circle cx="336" cy="137.4" r="4.05"/>
<circle cx="344.4" cy="135.6" r="4.05"/>
<circle cx="352.4" cy="134.6" r="4.05"/>
<circle cx="361" cy="134" r="4.05"/>
<circle cx="369.6" cy="134.6" r="4.05"/>
<circle cx="381.6" cy="134.2" r="4.05"/>
<circle cx="393.6" cy="135.8" r="4.05"/>
<circle cx="405.3" cy="138.2" r="4.05"/>
<circle cx="414.4" cy="140.8" r="4.05"/>
<circle cx="427.4" cy="142.6" r="4.05"/>
<circle cx="437.6" cy="142.6" r="4.05"/>
<circle cx="159.4" cy="174.6" r="4.05"/>
<circle cx="168.6" cy="174" r="4.05"/>
<circle cx="176" cy="174.6" r="4.05"/>
<circle cx="180" cy="175.4" r="4.05"/>
<circle cx="184" cy="175" r="4.05"/>
<circle cx="188.6" cy="177" r="4.05"/>
<circle cx="195.5" cy="177" r="4.05"/>
<circle cx="204.5" cy="178" r="4.05"/>
<circle cx="208.7" cy="180" r="4.05"/>
<circle cx="216.3" cy="180" r="4.05"/>
<circle cx="220.7" cy="182.6" r="4.05"/>
<circle cx="227.8" cy="183.8" r="4.05"/>
<circle cx="236.6" cy="185.5" r="4.05"/>
<circle cx="243.9" cy="185.5" r="4.05"/>
<circle cx="251.5" cy="185.9" r="4.05"/>
<circle cx="260.2" cy="187.1" r="4.05"/>
<circle cx="267.5" cy="189" r="4.05"/>
<circle cx="276.8" cy="188.5" r="4.05"/>
<circle cx="288.8" cy="188.5" r="4.05"/>
<circle cx="298.3" cy="188.5" r="4.05"/>
<circle cx="309" cy="188.8" r="4.05"/>
<circle cx="318.4" cy="188.3" r="4.05"/>
<circle cx="328.3" cy="188.7" r="4.05"/>
<circle cx="335.4" cy="188.7" r="4.05"/>
<circle cx="343" cy="188.9" r="4.05"/>
<circle cx="347.4" cy="189.4" r="4.05"/>
<circle cx="355.3" cy="189.4" r="4.05"/>
<circle cx="364" cy="189.4" r="4.05"/>
<circle cx="373.1" cy="190.7" r="4.05"/>
<circle cx="384.6" cy="192" r="4.05"/>
<circle cx="403.6" cy="192" r="4.05"/>
<circle cx="416.9" cy="192" r="4.05"/>
<circle cx="429.6" cy="192" r="4.05"/>
<circle cx="441.8" cy="192" r="4.05"/>
</g>
<g font-size="14">
<text x="452.4" y="77.8"><tspan class="i">s</tspan>=500 <tspan class="i">kPa</tspan></text>
<text x="452.4" y="93.5"><tspan class="i">p</tspan><tspan class="i" font-size="9.0" dy="3.1">net</tspan><tspan dy="-3.1">=300 </tspan><tspan class="i">kPa</tspan></text>
<text x="452.4" y="109.4"><tspan class="i">e</tspan>=0.41</text>
</g>
<g font-size="14">
<text x="452.4" y="133.3"><tspan class="i">s</tspan>=500 <tspan class="i">kPa</tspan></text>
<text x="452.4" y="149.3"><tspan class="i">p</tspan><tspan class="i" font-size="9.0" dy="3.1">net</tspan><tspan dy="-3.1">=200 </tspan><tspan class="i">kPa</tspan></text>
<text x="452.4" y="165.3"><tspan class="i">e</tspan>=0.42</text>
</g>
<g font-size="14">
<text x="452.4" y="192.7"><tspan class="i">s</tspan>=500 <tspan class="i">kPa</tspan></text>
<text x="452.4" y="208.7"><tspan class="i">p</tspan><tspan class="i" font-size="9.0" dy="3.1">net</tspan><tspan dy="-3.1">=100 </tspan><tspan class="i">kPa</tspan></text>
<text x="452.4" y="224.7"><tspan class="i">e</tspan>=0.43</text>
</g>
<text font-size="19.2" x="266.9" y="339.7">(<tspan class="b">a</tspan>)</text>
<g stroke="#4a4a4a" stroke-width="1.35" fill="none">
<path d="M58.8,400.2 V650.4"/>
<path d="M54.5,400.6 H58.7" stroke-width="1.2"/>
<path d="M54.5,425.5 H58.7" stroke-width="1.2"/>
<path d="M54.5,450.4 H58.7" stroke-width="1.2"/>
<path d="M54.5,475.3 H58.7" stroke-width="1.2"/>
<path d="M54.5,500.2 H58.7" stroke-width="1.2"/>
<path d="M54.5,525.1 H58.7" stroke-width="1.2"/>
<path d="M54.5,550.0 H58.7" stroke-width="1.2"/>
<path d="M54.5,574.9 H58.7" stroke-width="1.2"/>
<path d="M54.5,599.8 H58.7" stroke-width="1.2"/>
<path d="M54.5,624.7 H58.7" stroke-width="1.2"/>
<path d="M54.5,649.6 H58.7" stroke-width="1.2"/>
<path d="M58.7,600 H453" stroke-width="1.3"/>
<path d="M157.2,600 V604" stroke-width="1.2"/>
<path d="M255.7,600 V604" stroke-width="1.2"/>
<path d="M354.2,600 V604" stroke-width="1.2"/>
<path d="M452.7,600 V604" stroke-width="1.2"/>
</g>
<g font-size="12" text-anchor="end">
<text x="47.5" y="404.7">4</text>
<text x="47.5" y="429.6">3.5</text>
<text x="47.5" y="454.5">3</text>
<text x="47.5" y="479.4">2.5</text>
<text x="47.5" y="504.3">2</text>
<text x="47.5" y="529.2">1.5</text>
<text x="47.5" y="554.1">1</text>
<text x="47.5" y="579.0">0.5</text>
<text x="47.5" y="603.9">0</text>
<text x="47.5" y="628.8">−0.5</text>
<text x="47.5" y="653.7">−1</text>
</g>
<g font-size="12" text-anchor="middle">
<text x="58.7" y="618.2" fill="#888">0</text>
<text x="157.2" y="618.2">4</text>
<text x="255.7" y="618.2">8</text>
<text x="354.2" y="618.2">12</text>
<text x="452.7" y="618.2">16</text>
</g>
<text class="b" font-size="18.85" x="234.6" y="657.8">Axial strain, <tspan class="i">ε</tspan><tspan class="i" font-size="12.4" dy="4">q</tspan><tspan dy="-4"> (%)</tspan></text>
<text class="b" font-size="17" text-anchor="middle" transform="translate(19.6,505) rotate(-90)">Volumetric Strain, <tspan class="i">ε</tspan><tspan class="i" font-size="11" dy="3.5">v</tspan><tspan dy="-3.5"> (%)</tspan></text>
<circle cx="126.9" cy="365.4" r="4.50" fill="none" stroke="#111" stroke-width="1.63"/>
<text font-size="16.9" x="143.9" y="371.2">Experimental data</text>
<path d="M112.4,383.9 H141.5" stroke="#111" stroke-width="2.31"/>
<text font-size="16.9" x="143.9" y="389.1">Simulations from the present model</text>
<path d="M112.4,402.1 H142.3" stroke="#111" stroke-width="1.99" stroke-dasharray="6 3.7"/>
<text font-size="16.9" x="143.9" y="406.9">Simulations from [28]</text>
<g fill="none" stroke="#111" stroke-width="2.4" stroke-linejoin="round">
<path d="M59.5,600.0 L60.6,602.1 L61.7,604.1 L63.0,605.9 L64.4,607.6 L65.9,609.2 L67.5,610.6 L69.1,611.9 L70.9,613.0 L72.7,613.9 L74.5,614.7 L76.4,615.4 L78.3,615.9 L80.3,616.3 L82.3,616.5 L84.3,616.6 L86.3,616.5 L88.3,616.3 L90.3,616.0 L92.3,615.5 L94.2,615.0 L96.2,614.3 L98.2,613.6 L100.1,612.8 L102.0,611.9 L103.9,610.9 L105.7,610.0 L107.6,608.9 L109.4,607.9 L111.2,606.8 L113.0,605.6 L114.7,604.5 L116.4,603.3 L118.1,602.1 L119.8,600.8 L121.5,599.6 L123.2,598.3 L124.8,597.0 L126.5,595.7 L128.1,594.3 L129.7,593.0 L131.3,591.6 L133.0,590.3 L134.6,588.9 L136.2,587.5 L137.8,586.2 L139.4,584.8 L141.0,583.5 L142.6,582.1 L144.2,580.7 L145.8,579.4 L147.5,578.1 L149.1,576.7 L150.7,575.4 L152.3,574.0 L153.9,572.7 L155.6,571.4 L157.2,570.1 L158.8,568.8 L160.5,567.4 L162.1,566.1 L163.8,564.8 L165.4,563.5 L167.0,562.2 L168.7,560.9 L170.3,559.7 L172.0,558.4 L173.6,557.1 L175.3,555.8 L177.0,554.5 L178.6,553.3 L180.3,552.0 L181.9,550.7 L183.6,549.5 L185.3,548.2 L186.9,547.0 L188.6,545.7 L190.3,544.5 L192.0,543.2 L193.6,542.0 L195.3,540.7 L197.0,539.5 L198.7,538.2 L200.4,537.0 L202.0,535.8 L203.7,534.5 L205.4,533.3 L207.1,532.1 L208.8,530.9 L210.5,529.7 L212.2,528.4 L213.9,527.2 L215.6,526.0 L217.3,524.8 L219.0,523.6 L220.7,522.4 L222.4,521.2 L224.1,520.0 L225.8,518.8 L227.6,517.6 L229.3,516.4 L231.0,515.2 L232.7,514.0 L234.4,512.8 L236.1,511.6 L237.9,510.4 L239.6,509.2 L241.3,508.0 L243.1,506.9 L244.8,505.7 L246.5,504.5 L248.2,503.3 L250.0,502.1 L251.7,501.0 L253.5,499.8 L255.2,498.6 L256.9,497.5 L258.7,496.3 L260.4,495.2 L262.2,494.0 L263.9,492.9 L265.7,491.7 L267.5,490.6 L269.2,489.4 L271.0,488.3 L272.8,487.2 L274.5,486.1 L276.3,485.0 L278.1,483.9 L279.9,482.8 L281.7,481.7 L283.5,480.6 L285.3,479.5 L287.1,478.5 L288.9,477.4 L290.7,476.4 L292.5,475.3 L294.3,474.3 L296.2,473.3 L298.0,472.3 L299.8,471.3 L301.7,470.3 L303.5,469.3 L305.4,468.3 L307.2,467.4 L309.1,466.4 L310.9,465.5 L312.8,464.6 L314.7,463.7 L316.6,462.7 L318.5,461.8 L320.4,461.0 L322.3,460.1 L324.2,459.2 L326.1,458.3 L328.0,457.5 L329.9,456.6 L331.8,455.8 L333.7,454.9 L335.6,454.1 L337.5,453.2 L339.4,452.4 L341.3,451.5 L343.2,450.7 L345.2,449.8 L347.1,448.9 L349.0,448.1 L350.9,447.2 L352.8,446.4 L354.7,445.5 L356.6,444.6 L358.5,443.8 L360.4,442.9 L362.3,442.0 L364.2,441.1 L366.1,440.3 L368.1,439.4 L370.0,438.5 L371.9,437.7 L373.8,436.8 L375.7,436.0 L377.6,435.2 L379.5,434.3 L381.5,433.5 L383.4,432.7 L385.3,431.9 L387.3,431.1 L389.2,430.4 L391.2,429.6 L393.1,428.9 L395.1,428.2 L397.1,427.4 L399.0,426.7 L401.0,426.1 L403.0,425.4 L405.0,424.7 L406.9,424.0 L408.9,423.4 L410.9,422.8 L412.9,422.1 L414.9,421.5 L416.9,420.9 L418.9,420.3 L420.9,419.6 L422.9,419.0 L424.9,418.4 L426.9,417.8 L428.9,417.2 L431.0,416.6 L433.0,416.0 L435.0,415.4 L437.0,414.8 L439.0,414.3 L441.0,413.7 L443.0,413.1 L445.0,412.5 L447.0,411.8 L449.0,411.2 L451.0,410.6 L453.0,410.0"/>
<path d="M59.5,600.0 L60.5,602.0 L61.6,603.8 L62.8,605.6 L64.1,607.3 L65.5,608.8 L67.0,610.3 L68.5,611.6 L70.1,612.8 L71.7,613.9 L73.4,614.9 L75.2,615.7 L77.0,616.5 L78.8,617.1 L80.7,617.6 L82.6,617.9 L84.5,618.2 L86.4,618.3 L88.3,618.3 L90.3,618.2 L92.2,618.0 L94.1,617.6 L96.0,617.2 L97.9,616.7 L99.9,616.1 L101.7,615.4 L103.6,614.6 L105.5,613.8 L107.4,612.9 L109.2,612.0 L111.0,611.0 L112.8,610.1 L114.6,609.0 L116.4,608.0 L118.2,607.0 L120.0,605.9 L121.7,604.8 L123.4,603.7 L125.2,602.6 L126.9,601.6 L128.6,600.5 L130.3,599.4 L132.1,598.3 L133.8,597.2 L135.5,596.2 L137.2,595.1 L138.9,594.0 L140.6,593.0 L142.3,591.9 L144.0,590.9 L145.7,589.8 L147.4,588.8 L149.1,587.7 L150.8,586.7 L152.5,585.6 L154.2,584.5 L155.9,583.5 L157.6,582.4 L159.2,581.3 L160.9,580.3 L162.6,579.2 L164.3,578.1 L166.0,577.0 L167.6,575.9 L169.3,574.8 L171.0,573.7 L172.6,572.6 L174.3,571.4 L176.0,570.3 L177.7,569.2 L179.3,568.0 L181.0,566.9 L182.7,565.7 L184.3,564.6 L186.0,563.4 L187.7,562.3 L189.3,561.2 L191.0,560.0 L192.7,558.9 L194.4,557.8 L196.1,556.7 L197.8,555.5 L199.4,554.4 L201.1,553.3 L202.8,552.2 L204.5,551.1 L206.2,550.0 L207.9,549.0 L209.6,547.9 L211.4,546.8 L213.1,545.8 L214.8,544.7 L216.5,543.7 L218.2,542.6 L220.0,541.6 L221.7,540.6 L223.4,539.5 L225.2,538.5 L226.9,537.5 L228.7,536.5 L230.4,535.5 L232.2,534.6 L233.9,533.6 L235.7,532.6 L237.5,531.7 L239.3,530.7 L241.0,529.8 L242.8,528.9 L244.6,527.9 L246.4,527.0 L248.2,526.1 L250.0,525.2 L251.8,524.3 L253.6,523.4 L255.4,522.6 L257.3,521.7 L259.1,520.8 L260.9,519.9 L262.7,519.1 L264.5,518.2 L266.4,517.4 L268.2,516.5 L270.0,515.6 L271.8,514.8 L273.7,513.9 L275.5,513.1 L277.3,512.2 L279.1,511.3 L281.0,510.5 L282.8,509.6 L284.6,508.7 L286.4,507.9 L288.2,507.0 L290.0,506.1 L291.9,505.2 L293.7,504.3 L295.5,503.4 L297.3,502.5 L299.1,501.7 L300.9,500.8 L302.7,499.9 L304.5,499.0 L306.3,498.1 L308.2,497.3 L310.0,496.4 L311.8,495.6 L313.6,494.7 L315.5,493.9 L317.3,493.1 L319.2,492.3 L321.0,491.5 L322.9,490.7 L324.7,490.0 L326.6,489.2 L328.5,488.5 L330.3,487.7 L332.2,487.0 L334.1,486.3 L336.0,485.5 L337.9,484.8 L339.8,484.1 L341.6,483.4 L343.5,482.7 L345.4,482.0 L347.3,481.4 L349.2,480.7 L351.1,480.0 L353.0,479.4 L354.9,478.7 L356.8,478.0 L358.8,477.4 L360.7,476.7 L362.6,476.1 L364.5,475.4 L366.4,474.8 L368.3,474.1 L370.2,473.5 L372.1,472.9 L374.0,472.2 L376.0,471.6 L377.9,470.9 L379.8,470.3 L381.7,469.7 L383.6,469.0 L385.5,468.4 L387.4,467.7 L389.3,467.1 L391.2,466.4 L393.1,465.8 L395.1,465.1 L397.0,464.4 L398.9,463.8 L400.8,463.1 L402.7,462.5 L404.6,461.8 L406.5,461.2 L408.4,460.5 L410.3,459.9 L412.2,459.2 L414.1,458.6 L416.0,458.0 L418.0,457.3 L419.9,456.7 L421.8,456.1 L423.7,455.5 L425.6,454.9 L427.6,454.3 L429.5,453.8 L431.4,453.2 L433.4,452.7 L435.3,452.1 L437.3,451.6 L439.2,451.1 L441.2,450.6 L443.1,450.1 L445.1,449.7 L447.1,449.2 L449.0,448.8 L451.0,448.4 L453.0,448.0"/>
<path d="M59.5,600.0 L60.5,601.8 L61.5,603.5 L62.7,605.2 L63.9,606.8 L65.2,608.4 L66.6,609.9 L68.0,611.3 L69.6,612.6 L71.1,613.9 L72.7,615.1 L74.4,616.1 L76.1,617.1 L77.9,617.9 L79.7,618.7 L81.5,619.3 L83.3,619.7 L85.2,620.1 L87.1,620.3 L89.0,620.5 L90.9,620.5 L92.8,620.4 L94.7,620.3 L96.7,620.0 L98.6,619.7 L100.5,619.2 L102.5,618.7 L104.4,618.2 L106.3,617.5 L108.1,616.8 L110.0,616.1 L111.9,615.3 L113.7,614.4 L115.5,613.5 L117.2,612.6 L119.0,611.6 L120.7,610.7 L122.5,609.7 L124.2,608.6 L125.9,607.6 L127.6,606.6 L129.3,605.5 L131.0,604.5 L132.7,603.4 L134.4,602.4 L136.1,601.4 L137.8,600.5 L139.6,599.5 L141.3,598.6 L143.1,597.7 L144.8,596.8 L146.6,595.9 L148.4,595.1 L150.1,594.2 L151.9,593.4 L153.7,592.5 L155.5,591.7 L157.2,590.8 L159.0,590.0 L160.8,589.1 L162.5,588.2 L164.3,587.3 L166.0,586.3 L167.7,585.4 L169.5,584.4 L171.2,583.5 L172.9,582.5 L174.6,581.5 L176.3,580.5 L178.0,579.5 L179.7,578.5 L181.4,577.5 L183.1,576.4 L184.8,575.4 L186.5,574.3 L188.1,573.3 L189.8,572.2 L191.5,571.2 L193.2,570.1 L194.9,569.1 L196.5,568.0 L198.2,567.0 L199.9,565.9 L201.6,564.9 L203.3,563.8 L205.0,562.8 L206.7,561.7 L208.3,560.7 L210.0,559.7 L211.7,558.6 L213.4,557.6 L215.2,556.6 L216.9,555.6 L218.6,554.6 L220.3,553.7 L222.0,552.7 L223.8,551.7 L225.5,550.8 L227.3,549.9 L229.0,549.0 L230.8,548.0 L232.5,547.1 L234.3,546.2 L236.1,545.4 L237.8,544.5 L239.6,543.6 L241.4,542.8 L243.2,541.9 L245.0,541.1 L246.8,540.2 L248.5,539.4 L250.3,538.6 L252.2,537.8 L254.0,537.0 L255.8,536.2 L257.6,535.4 L259.4,534.6 L261.2,533.8 L263.0,533.0 L264.8,532.3 L266.7,531.5 L268.5,530.7 L270.3,530.0 L272.1,529.2 L274.0,528.4 L275.8,527.7 L277.6,526.9 L279.5,526.2 L281.3,525.4 L283.1,524.7 L284.9,523.9 L286.8,523.2 L288.6,522.4 L290.4,521.7 L292.3,521.0 L294.1,520.2 L295.9,519.5 L297.8,518.8 L299.6,518.0 L301.5,517.3 L303.3,516.6 L305.1,515.9 L307.0,515.1 L308.8,514.4 L310.6,513.7 L312.5,513.0 L314.3,512.3 L316.2,511.5 L318.0,510.8 L319.9,510.1 L321.7,509.4 L323.6,508.7 L325.4,508.0 L327.3,507.3 L329.1,506.6 L331.0,505.9 L332.8,505.2 L334.7,504.5 L336.5,503.8 L338.4,503.1 L340.2,502.5 L342.1,501.8 L344.0,501.1 L345.8,500.4 L347.7,499.7 L349.5,499.1 L351.4,498.4 L353.3,497.7 L355.1,497.1 L357.0,496.4 L358.9,495.8 L360.7,495.1 L362.6,494.5 L364.5,493.8 L366.4,493.2 L368.2,492.5 L370.1,491.9 L372.0,491.3 L373.9,490.7 L375.8,490.1 L377.6,489.5 L379.5,488.8 L381.4,488.2 L383.3,487.7 L385.2,487.1 L387.1,486.5 L389.0,485.9 L390.9,485.3 L392.8,484.8 L394.7,484.2 L396.5,483.6 L398.5,483.1 L400.4,482.6 L402.3,482.0 L404.2,481.5 L406.1,481.0 L408.0,480.4 L409.9,479.9 L411.8,479.4 L413.7,478.9 L415.6,478.5 L417.5,478.0 L419.5,477.5 L421.4,477.0 L423.3,476.6 L425.2,476.1 L427.2,475.7 L429.1,475.2 L431.0,474.8 L433.0,474.4 L434.9,474.0 L436.8,473.6 L438.8,473.2 L440.7,472.8 L442.7,472.4 L444.6,472.1 L446.5,471.7 L448.5,471.4 L450.4,471.0 L452.4,470.7"/>
</g>
<g fill="none" stroke="#111" stroke-width="2.25" stroke-dasharray="7.5 5.3">
<path d="M58.5,599.7 L60.5,600.3 L62.4,600.8 L64.3,601.1 L66.3,601.4 L68.1,601.6 L70.0,601.6 L71.9,601.6 L73.7,601.5 L75.6,601.3 L77.4,601.1 L79.2,600.7 L81.0,600.3 L82.8,599.8 L84.6,599.3 L86.3,598.7 L88.1,598.1 L89.8,597.4 L91.5,596.7 L93.2,595.9 L94.9,595.1 L96.6,594.3 L98.3,593.4 L100.0,592.5 L101.7,591.6 L103.3,590.6 L105.0,589.7 L106.7,588.7 L108.3,587.7 L110.0,586.7 L111.6,585.7 L113.3,584.7 L114.9,583.7 L116.6,582.7 L118.2,581.6 L119.9,580.6 L121.6,579.6 L123.2,578.7 L124.9,577.7 L126.6,576.7 L128.2,575.8 L129.9,574.8 L131.6,573.9 L133.3,573.0 L134.9,572.1 L136.6,571.2 L138.3,570.3 L140.0,569.4 L141.7,568.5 L143.4,567.6 L145.1,566.8 L146.8,565.9 L148.5,565.1 L150.2,564.2 L152.0,563.4 L153.7,562.6 L155.4,561.8 L157.1,560.9 L158.8,560.1 L160.6,559.3 L162.3,558.6 L164.0,557.8 L165.8,557.0 L167.5,556.2 L169.2,555.4 L171.0,554.7 L172.7,553.9 L174.4,553.2 L176.2,552.4 L177.9,551.7 L179.7,550.9 L181.4,550.2 L183.2,549.5 L184.9,548.7 L186.7,548.0 L188.4,547.3 L190.2,546.5 L192.0,545.8 L193.7,545.1 L195.5,544.4 L197.2,543.7 L199.0,543.0 L200.8,542.2 L202.5,541.5 L204.3,540.8 L206.1,540.1 L207.8,539.4 L209.6,538.7 L211.4,538.0 L213.1,537.3 L214.9,536.6 L216.7,535.9 L218.5,535.2 L220.2,534.5 L222.0,533.8 L223.8,533.1 L225.6,532.4 L227.3,531.7 L229.1,531.0 L230.9,530.3 L232.7,529.6 L234.5,528.9 L236.3,528.2 L238.0,527.6 L239.8,526.9 L241.6,526.2 L243.4,525.6 L245.2,524.9 L247.0,524.2 L248.8,523.6 L250.6,522.9 L252.4,522.3 L254.2,521.7 L256.0,521.0 L257.8,520.4 L259.6,519.8 L261.4,519.2 L263.2,518.6 L265.0,518.0 L266.8,517.4 L268.7,516.8 L270.5,516.2 L272.3,515.6 L274.1,515.1 L275.9,514.5 L277.7,513.9 L279.6,513.4 L281.4,512.8 L283.2,512.3 L285.0,511.7 L286.9,511.2 L288.7,510.6 L290.5,510.1 L292.3,509.5 L294.2,509.0 L296.0,508.5 L297.8,507.9 L299.7,507.4 L301.5,506.8 L303.3,506.3 L305.2,505.8 L307.0,505.2 L308.8,504.7 L310.6,504.2 L312.5,503.7 L314.3,503.1 L316.1,502.6 L318.0,502.1 L319.8,501.5 L321.6,501.0 L323.5,500.5 L325.3,499.9 L327.1,499.4 L329.0,498.9 L330.8,498.3 L332.6,497.8 L334.5,497.3 L336.3,496.7 L338.1,496.2 L340.0,495.7 L341.8,495.1 L343.6,494.6 L345.5,494.1 L347.3,493.6 L349.1,493.0 L351.0,492.5 L352.8,492.0 L354.6,491.5 L356.5,490.9 L358.3,490.4 L360.1,489.9 L362.0,489.4 L363.8,488.9 L365.7,488.4 L367.5,487.9 L369.3,487.4 L371.2,486.9 L373.0,486.4 L374.9,485.9 L376.7,485.4 L378.5,484.9 L380.4,484.4 L382.2,483.9 L384.1,483.4 L385.9,482.9 L387.8,482.4 L389.6,481.9 L391.5,481.5 L393.3,481.0 L395.2,480.5 L397.0,480.0 L398.9,479.6 L400.7,479.1 L402.6,478.7 L404.4,478.2 L406.3,477.8 L408.1,477.3 L410.0,476.9 L411.8,476.4 L413.7,476.0 L415.5,475.6 L417.4,475.1 L419.3,474.7 L421.1,474.3 L423.0,473.9 L424.8,473.5 L426.7,473.1 L428.6,472.7 L430.4,472.3 L432.3,471.9 L434.2,471.5 L436.0,471.1 L437.9,470.7 L439.8,470.3 L441.6,470.0 L443.5,469.6 L445.4,469.2 L447.2,468.9 L449.1,468.5 L451.0,468.2"/>
<path d="M58.5,599.7 L59.9,601.2 L61.3,602.6 L62.8,603.9 L64.3,605.0 L65.9,605.9 L67.5,606.8 L69.2,607.5 L70.9,608.1 L72.6,608.6 L74.3,609.0 L76.1,609.3 L77.9,609.5 L79.7,609.7 L81.5,609.8 L83.4,609.8 L85.2,609.7 L87.1,609.6 L88.9,609.5 L90.7,609.3 L92.6,609.0 L94.4,608.7 L96.2,608.4 L98.1,608.0 L99.9,607.6 L101.7,607.2 L103.5,606.8 L105.3,606.3 L107.2,605.8 L109.0,605.2 L110.8,604.7 L112.6,604.1 L114.4,603.5 L116.2,602.9 L118.0,602.3 L119.8,601.6 L121.5,601.0 L123.3,600.3 L125.1,599.7 L126.8,599.0 L128.6,598.4 L130.4,597.7 L132.1,597.0 L133.9,596.4 L135.6,595.7 L137.3,595.0 L139.1,594.3 L140.8,593.6 L142.5,592.9 L144.3,592.2 L146.0,591.6 L147.7,590.9 L149.5,590.2 L151.2,589.5 L152.9,588.8 L154.6,588.1 L156.4,587.4 L158.1,586.7 L159.8,586.0 L161.5,585.4 L163.2,584.7 L165.0,584.0 L166.7,583.3 L168.4,582.7 L170.2,582.0 L171.9,581.3 L173.6,580.7 L175.4,580.0 L177.1,579.4 L178.8,578.8 L180.6,578.2 L182.3,577.5 L184.1,576.9 L185.8,576.3 L187.6,575.7 L189.4,575.2 L191.1,574.6 L192.9,574.0 L194.7,573.4 L196.4,572.9 L198.2,572.3 L200.0,571.8 L201.8,571.2 L203.6,570.7 L205.3,570.2 L207.1,569.7 L208.9,569.1 L210.7,568.6 L212.5,568.1 L214.3,567.6 L216.1,567.1 L217.9,566.6 L219.7,566.1 L221.5,565.6 L223.3,565.1 L225.1,564.6 L226.9,564.2 L228.7,563.7 L230.5,563.2 L232.3,562.7 L234.1,562.2 L235.9,561.8 L237.7,561.3 L239.5,560.8 L241.3,560.4 L243.1,559.9 L245.0,559.4 L246.8,559.0 L248.6,558.5 L250.4,558.1 L252.2,557.6 L254.0,557.2 L255.8,556.7 L257.6,556.2 L259.4,555.8 L261.2,555.3 L263.0,554.9 L264.9,554.4 L266.7,554.0 L268.5,553.5 L270.3,553.1 L272.1,552.7 L273.9,552.2 L275.7,551.8 L277.5,551.3 L279.4,550.9 L281.2,550.5 L283.0,550.0 L284.8,549.6 L286.6,549.2 L288.4,548.7 L290.2,548.3 L292.1,547.9 L293.9,547.4 L295.7,547.0 L297.5,546.6 L299.3,546.2 L301.1,545.8 L302.9,545.3 L304.8,544.9 L306.6,544.5 L308.4,544.1 L310.2,543.7 L312.0,543.3 L313.8,542.8 L315.7,542.4 L317.5,542.0 L319.3,541.6 L321.1,541.2 L322.9,540.8 L324.8,540.4 L326.6,540.0 L328.4,539.6 L330.2,539.2 L332.0,538.8 L333.9,538.4 L335.7,538.0 L337.5,537.6 L339.3,537.2 L341.1,536.8 L343.0,536.4 L344.8,536.1 L346.6,535.7 L348.4,535.3 L350.3,534.9 L352.1,534.5 L353.9,534.1 L355.7,533.8 L357.6,533.4 L359.4,533.0 L361.2,532.6 L363.0,532.3 L364.9,531.9 L366.7,531.5 L368.5,531.1 L370.3,530.8 L372.2,530.4 L374.0,530.0 L375.8,529.7 L377.6,529.3 L379.5,529.0 L381.3,528.6 L383.1,528.2 L385.0,527.9 L386.8,527.5 L388.6,527.2 L390.4,526.8 L392.3,526.5 L394.1,526.1 L395.9,525.8 L397.8,525.4 L399.6,525.1 L401.4,524.7 L403.3,524.4 L405.1,524.1 L406.9,523.7 L408.8,523.4 L410.6,523.0 L412.4,522.7 L414.3,522.4 L416.1,522.0 L417.9,521.7 L419.8,521.4 L421.6,521.0 L423.4,520.7 L425.3,520.4 L427.1,520.1 L428.9,519.7 L430.8,519.4 L432.6,519.1 L434.4,518.8 L436.3,518.5 L438.1,518.2 L440.0,517.8 L441.8,517.5 L443.6,517.2 L445.5,516.9 L447.3,516.6 L449.2,516.3 L451.0,516.0"/>
<path d="M59.5,600.0 L60.6,601.8 L61.7,603.5 L62.9,605.1 L64.1,606.6 L65.4,608.0 L66.8,609.4 L68.2,610.6 L69.6,611.8 L71.1,612.8 L72.6,613.8 L74.1,614.7 L75.7,615.5 L77.3,616.3 L79.0,616.9 L80.7,617.5 L82.3,618.1 L84.1,618.5 L85.8,618.9 L87.6,619.2 L89.3,619.5 L91.1,619.7 L92.9,619.9 L94.8,620.0 L96.6,620.1 L98.4,620.1 L100.3,620.0 L102.1,619.9 L104.0,619.8 L105.9,619.7 L107.7,619.5 L109.6,619.2 L111.5,619.0 L113.3,618.7 L115.2,618.4 L117.1,618.1 L118.9,617.7 L120.8,617.4 L122.6,617.0 L124.5,616.6 L126.3,616.2 L128.1,615.7 L130.0,615.3 L131.8,614.9 L133.7,614.4 L135.5,614.0 L137.3,613.5 L139.2,613.1 L141.0,612.6 L142.8,612.2 L144.6,611.7 L146.4,611.3 L148.3,610.9 L150.1,610.5 L151.9,610.1 L153.7,609.7 L155.5,609.3 L157.4,608.9 L159.2,608.5 L161.0,608.1 L162.8,607.7 L164.6,607.3 L166.4,607.0 L168.2,606.6 L170.1,606.2 L171.9,605.9 L173.7,605.5 L175.5,605.1 L177.3,604.8 L179.1,604.4 L180.9,604.0 L182.7,603.7 L184.5,603.3 L186.3,602.9 L188.2,602.6 L190.0,602.2 L191.8,601.8 L193.6,601.4 L195.4,601.0 L197.2,600.7 L199.0,600.3 L200.8,599.9 L202.6,599.5 L204.5,599.1 L206.3,598.7 L208.1,598.3 L209.9,597.9 L211.7,597.5 L213.5,597.1 L215.3,596.7 L217.1,596.3 L219.0,595.9 L220.8,595.5 L222.6,595.1 L224.4,594.7 L226.2,594.3 L228.0,593.9 L229.8,593.5 L231.7,593.1 L233.5,592.7 L235.3,592.3 L237.1,591.9 L238.9,591.5 L240.7,591.1 L242.6,590.7 L244.4,590.2 L246.2,589.8 L248.0,589.4 L249.8,589.0 L251.7,588.6 L253.5,588.2 L255.3,587.8 L257.1,587.4 L258.9,587.0 L260.8,586.6 L262.6,586.2 L264.4,585.8 L266.2,585.4 L268.0,585.0 L269.9,584.6 L271.7,584.2 L273.5,583.8 L275.3,583.4 L277.2,583.0 L279.0,582.7 L280.8,582.3 L282.6,581.9 L284.5,581.5 L286.3,581.1 L288.1,580.7 L289.9,580.4 L291.8,580.0 L293.6,579.6 L295.4,579.3 L297.2,578.9 L299.1,578.5 L300.9,578.2 L302.7,577.8 L304.5,577.5 L306.4,577.1 L308.2,576.8 L310.0,576.4 L311.9,576.1 L313.7,575.8 L315.5,575.4 L317.4,575.1 L319.2,574.8 L321.0,574.4 L322.9,574.1 L324.7,573.8 L326.5,573.5 L328.4,573.2 L330.2,572.9 L332.0,572.6 L333.9,572.3 L335.7,572.0 L337.5,571.7 L339.4,571.4 L341.2,571.1 L343.0,570.9 L344.9,570.6 L346.7,570.3 L348.6,570.0 L350.4,569.8 L352.2,569.5 L354.1,569.2 L355.9,569.0 L357.8,568.7 L359.6,568.4 L361.4,568.2 L363.3,567.9 L365.1,567.7 L367.0,567.4 L368.8,567.2 L370.6,566.9 L372.5,566.7 L374.3,566.4 L376.2,566.2 L378.0,565.9 L379.9,565.7 L381.7,565.4 L383.5,565.2 L385.4,564.9 L387.2,564.7 L389.1,564.5 L390.9,564.2 L392.8,564.0 L394.6,563.7 L396.4,563.5 L398.3,563.3 L400.1,563.0 L402.0,562.8 L403.8,562.5 L405.7,562.3 L407.5,562.1 L409.3,561.8 L411.2,561.6 L413.0,561.3 L414.9,561.1 L416.7,560.8 L418.6,560.6 L420.4,560.3 L422.3,560.1 L424.1,559.8 L425.9,559.6 L427.8,559.3 L429.6,559.1 L431.5,558.8 L433.3,558.6 L435.2,558.3 L437.0,558.1 L438.9,557.8 L440.7,557.5 L442.5,557.3 L444.4,557.0 L446.2,556.7 L448.1,556.4 L449.9,556.2 L451.8,555.9 L453.6,555.6"/>
</g>
<circle cx="60.3" cy="600.2" r="4.2" fill="#fff" stroke="#111" stroke-width="2.5"/>
<path d="M58.7,596.5 V603.5" stroke="#3c3c3c" stroke-width="1.5"/><path d="M57,600 H64" stroke="#3c3c3c" stroke-width="1.3"/>
<g fill="none" stroke="#111" stroke-width="1.7">
<circle cx="72" cy="603.2" r="4.5"/>
<circle cx="85" cy="603.8" r="4.5"/>
<circle cx="98" cy="600.3" r="4.5"/>
<circle cx="112.4" cy="592.2" r="4.5"/>
<circle cx="125.6" cy="582.2" r="4.5"/>
<circle cx="139" cy="570" r="4.5"/>
<circle cx="152.4" cy="556.6" r="4.5"/>
<circle cx="165" cy="544.4" r="4.5"/>
<circle cx="178.3" cy="532" r="4.5"/>
<circle cx="191.6" cy="521.4" r="4.5"/>
<circle cx="205" cy="510" r="4.5"/>
<circle cx="218" cy="501.5" r="4.5"/>
<circle cx="231" cy="492.6" r="4.5"/>
<circle cx="244.4" cy="487" r="4.5"/>
<circle cx="258" cy="482" r="4.5"/>
<circle cx="271.6" cy="477" r="4.5"/>
<circle cx="284.4" cy="472" r="4.5"/>
<circle cx="297" cy="468.6" r="4.5"/>
<circle cx="312" cy="464" r="4.5"/>
<circle cx="324.4" cy="460" r="4.5"/>
<circle cx="336.6" cy="454.4" r="4.5"/>
<circle cx="351.6" cy="449" r="4.5"/>
<circle cx="364" cy="443.4" r="4.5"/>
<circle cx="377" cy="438.3" r="4.5"/>
<circle cx="390.6" cy="432" r="4.5"/>
<circle cx="403.6" cy="428" r="4.5"/>
<circle cx="417" cy="424.6" r="4.5"/>
<circle cx="431.4" cy="421" r="4.5"/>
<circle cx="443.6" cy="419" r="4.5"/>
<circle cx="72.4" cy="608.5" r="4.5"/>
<circle cx="85.7" cy="615.5" r="4.5"/>
<circle cx="99" cy="619" r="4.5"/>
<circle cx="112.4" cy="618.5" r="4.5"/>
<circle cx="125.7" cy="616" r="4.5"/>
<circle cx="139" cy="611" r="4.5"/>
<circle cx="152.5" cy="606" r="4.5"/>
<circle cx="165.6" cy="595.8" r="4.5"/>
<circle cx="177.6" cy="588" r="4.5"/>
<circle cx="191" cy="580" r="4.5"/>
<circle cx="204.4" cy="572.2" r="4.5"/>
<circle cx="218" cy="564" r="4.5"/>
<circle cx="231" cy="556.6" r="4.5"/>
<circle cx="244.4" cy="549.6" r="4.5"/>
<circle cx="257.6" cy="543" r="4.5"/>
<circle cx="271" cy="537.4" r="4.5"/>
<circle cx="284.4" cy="531" r="4.5"/>
<circle cx="297.6" cy="525.3" r="4.5"/>
<circle cx="311" cy="520" r="4.5"/>
<circle cx="324.4" cy="514.6" r="4.5"/>
<circle cx="338" cy="509.6" r="4.5"/>
<circle cx="352" cy="504.3" r="4.5"/>
<circle cx="364" cy="500.1" r="4.5"/>
<circle cx="377.4" cy="495.5" r="4.5"/>
<circle cx="391" cy="491" r="4.5"/>
<circle cx="404.4" cy="487" r="4.5"/>
<circle cx="417.9" cy="482.7" r="4.5"/>
<circle cx="431.6" cy="478.4" r="4.5"/>
<circle cx="444.7" cy="474.4" r="4.5"/>
<circle cx="70.4" cy="608.5" r="4.5"/>
<circle cx="80.5" cy="614.3" r="4.5"/>
<circle cx="92" cy="619.4" r="4.5"/>
<circle cx="101.6" cy="620.6" r="4.5"/>
<circle cx="111.8" cy="618.5" r="4.5"/>
<circle cx="122.7" cy="617.7" r="4.5"/>
<circle cx="132.2" cy="614.8" r="4.5"/>
<circle cx="143" cy="612" r="4.5"/>
<circle cx="152.4" cy="605.6" r="4.5"/>
<circle cx="163.6" cy="602" r="4.5"/>
<circle cx="174.4" cy="598" r="4.5"/>
<circle cx="184" cy="594.4" r="4.5"/>
<circle cx="195" cy="589.6" r="4.5"/>
<circle cx="206" cy="587" r="4.5"/>
<circle cx="215.5" cy="582" r="4.5"/>
<circle cx="225.6" cy="578.4" r="4.5"/>
<circle cx="236" cy="576.4" r="4.5"/>
<circle cx="246.4" cy="574.6" r="4.5"/>
<circle cx="257" cy="572" r="4.5"/>
<circle cx="266.6" cy="570" r="4.5"/>
<circle cx="279" cy="568" r="4.5"/>
<circle cx="288" cy="566.6" r="4.5"/>
<circle cx="298.6" cy="564.2" r="4.5"/>
<circle cx="308.7" cy="562.7" r="4.5"/>
<circle cx="319.2" cy="560.7" r="4.5"/>
<circle cx="329.2" cy="558.8" r="4.5"/>
<circle cx="339.5" cy="557.4" r="4.5"/>
<circle cx="349.5" cy="556" r="4.5"/>
<circle cx="359.5" cy="553.7" r="4.5"/>
<circle cx="371" cy="551.6" r="4.5"/>
<circle cx="381.7" cy="549.5" r="4.5"/>
<circle cx="391" cy="548" r="4.5"/>
<circle cx="402.2" cy="545.5" r="4.5"/>
</g>
<g font-size="14.8">
<text x="464" y="394.9"><tspan class="i">s</tspan>=500 <tspan class="i">kPa</tspan></text>
<text x="464" y="412.4"><tspan class="i">p</tspan><tspan class="i" font-size="9.5" dy="3.3">net</tspan><tspan dy="-3.3">=100 </tspan><tspan class="i">kPa</tspan></text>
<text x="464" y="429.2"><tspan class="i">e</tspan>=0.43</text>
</g>
<g font-size="14.8">
<text x="464" y="455.6"><tspan class="i">s</tspan>=500 <tspan class="i">kPa</tspan></text>
<text x="464" y="473.3"><tspan class="i">p</tspan><tspan class="i" font-size="9.5" dy="3.3">net</tspan><tspan dy="-3.3">=200 </tspan><tspan class="i">kPa</tspan></text>
<text x="464" y="489.6"><tspan class="i">e</tspan>=0.42</text>
</g>
<g font-size="14.8">
<text x="464" y="522.8"><tspan class="i">s</tspan>=500 <tspan class="i">kPa</tspan></text>
<text x="464" y="539.8"><tspan class="i">p</tspan><tspan class="i" font-size="9.5" dy="3.3">net</tspan><tspan dy="-3.3">=300 </tspan><tspan class="i">kPa</tspan></text>
<text x="464" y="556.3"><tspan class="i">e</tspan>=0.41</text>
</g>
<text font-size="19.2" x="266.2" y="701.4">(<tspan class="b">b</tspan>)</text>
</svg></body></html>
